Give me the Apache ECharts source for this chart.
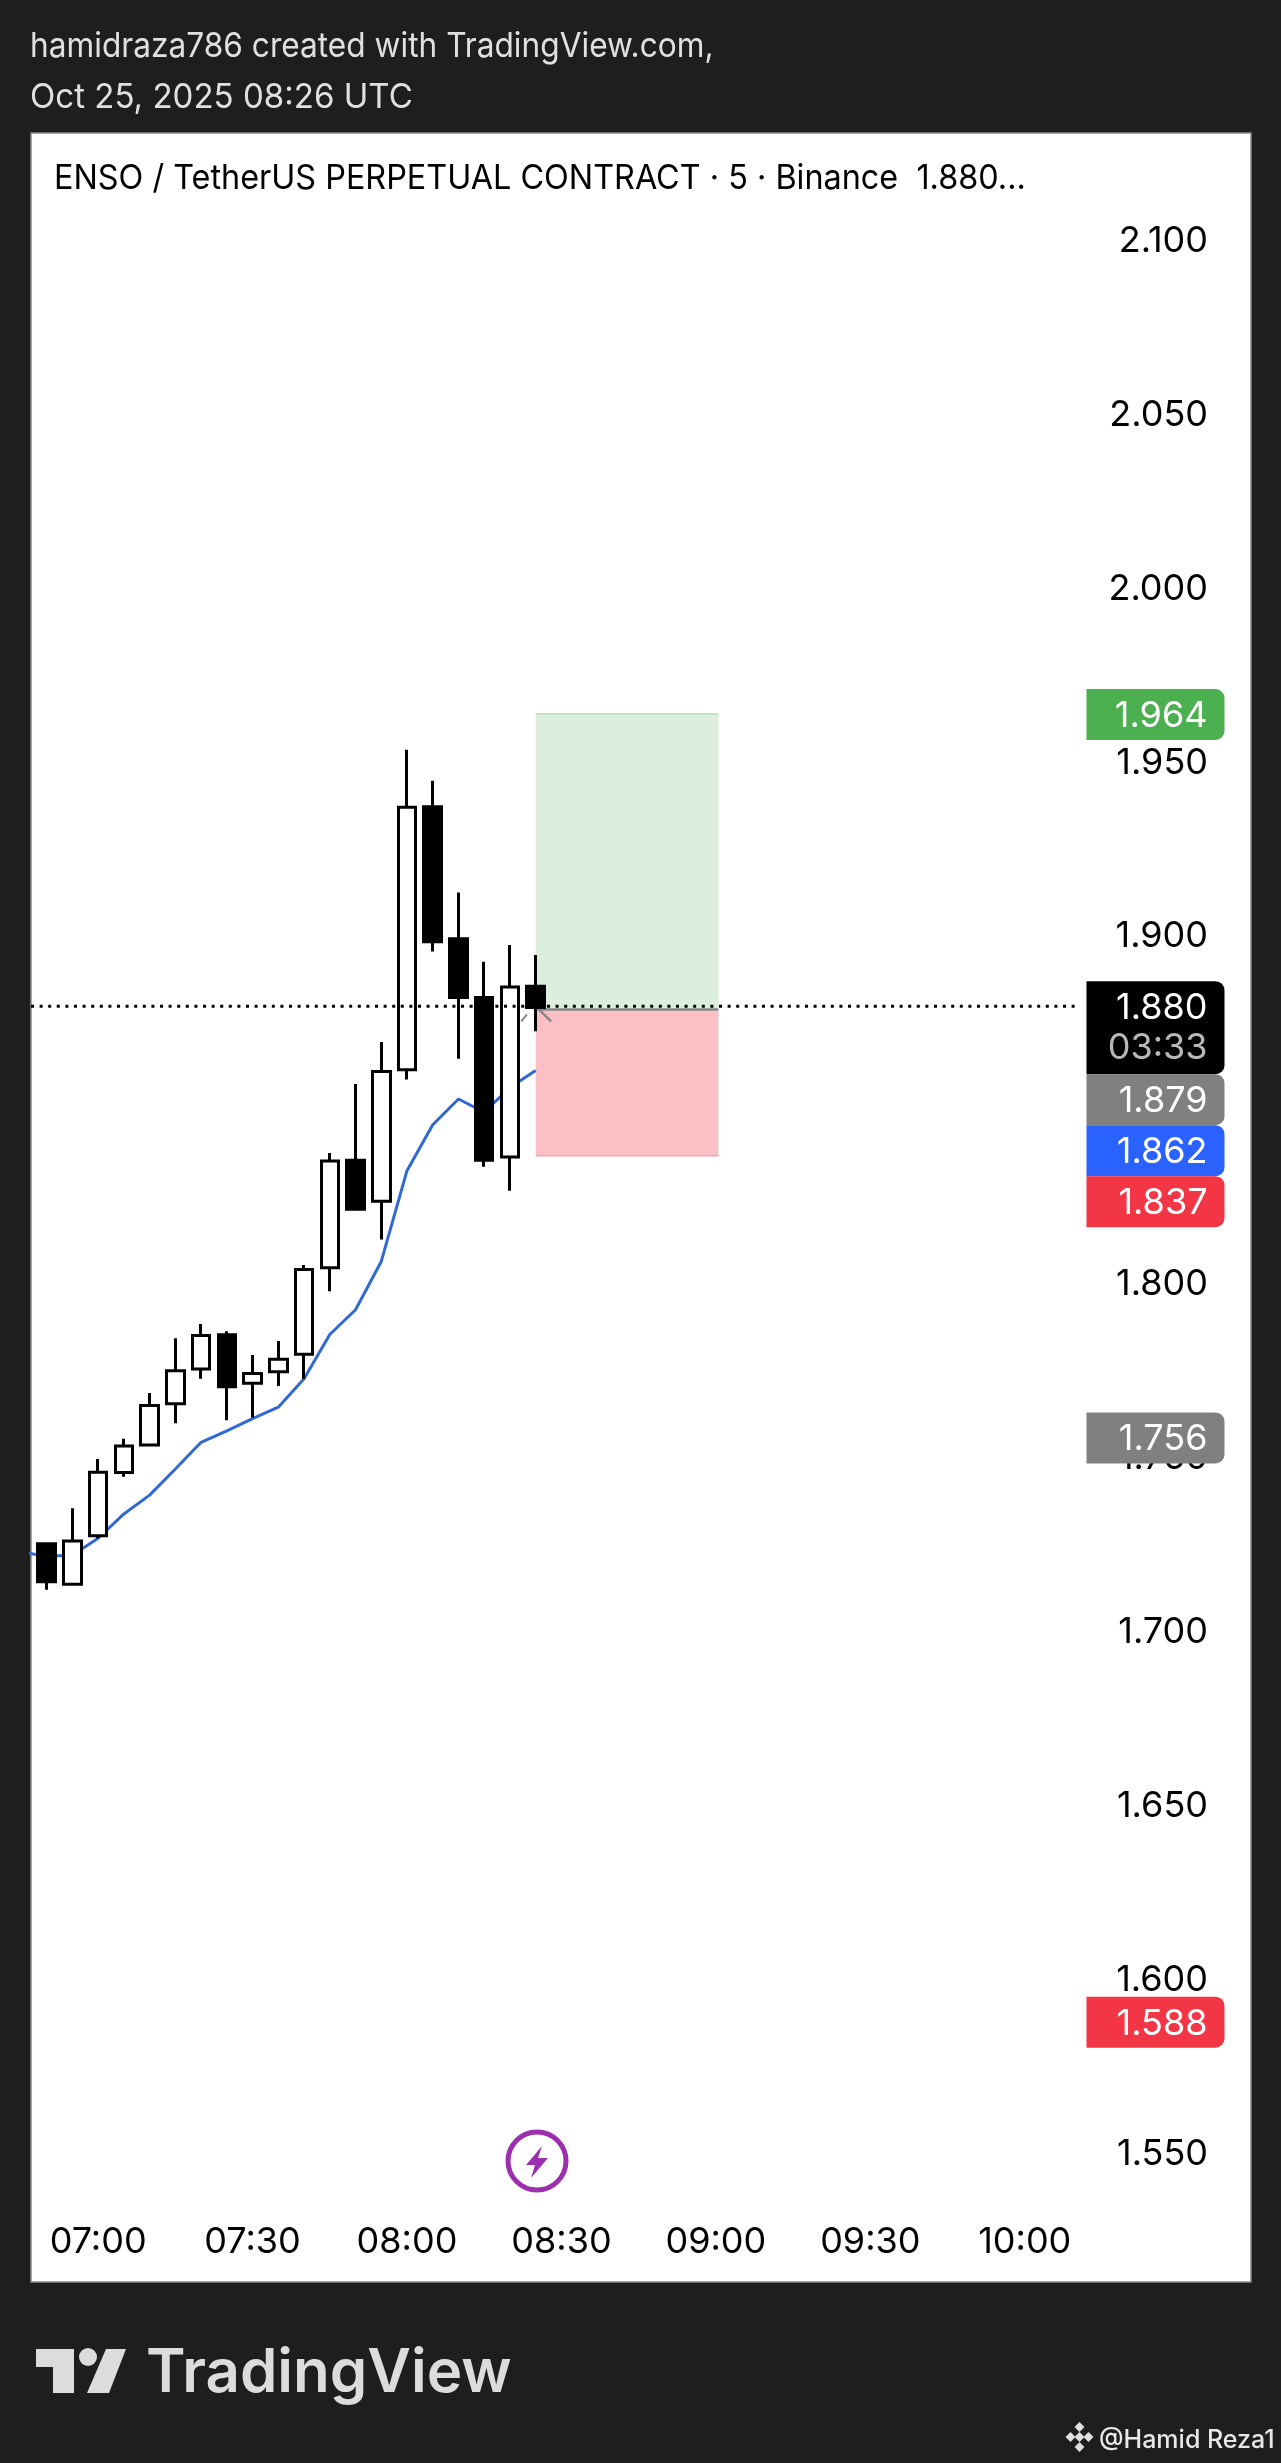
<!DOCTYPE html>
<html><head><meta charset="utf-8">
<style>html,body{margin:0;padding:0;background:#1e1e1e}#c{width:1281px;height:2463px}</style>
<script src="https://cdn.jsdelivr.net/npm/echarts@6/dist/echarts.min.js"></script>
</head><body><div id="c"></div>
<script>
const FONT = 'Inter';
const times = ['06:50','06:55','07:00','07:05','07:10','07:15','07:20','07:25','07:30','07:35','07:40','07:45','07:50','07:55','08:00','08:05','08:10','08:15','08:20','08:25'];
const opens  = [1.7254,1.7138,1.7277,1.7459,1.7538,1.7657,1.7757,1.7855,1.7716,1.7749,1.7799,1.8048,1.8357,1.8239,1.8617,1.9373,1.8994,1.8825,1.8366,1.8857];
const closes = [1.7145,1.7262,1.7460,1.7535,1.7652,1.7752,1.7853,1.7706,1.7744,1.7785,1.8043,1.8355,1.8216,1.8612,1.9372,1.8985,1.8825,1.8357,1.8855,1.8796];
const lows   = [1.7122,1.7138,1.7270,1.7447,1.7538,1.7601,1.7729,1.7609,1.7617,1.7708,1.7728,1.7980,1.8216,1.8129,1.8589,1.8957,1.8649,1.8338,1.8269,1.8728];
const highs  = [1.7254,1.7356,1.7498,1.7556,1.7688,1.7845,1.7886,1.7865,1.7797,1.7837,1.8056,1.8378,1.8576,1.8697,1.9537,1.9448,1.9127,1.8928,1.8976,1.8947];
const emaTimes  = ['06:45'].concat(times);
const emaValues = [1.7231,1.7218,1.7221,1.7270,1.7340,1.7394,1.7469,1.7546,1.7579,1.7614,1.7647,1.7729,1.7856,1.7927,1.8066,1.8327,1.8459,1.8533,1.8495,1.8566,1.8615];
const priceTicks = [1.55,1.6,1.65,1.7,1.75,1.8,1.85,1.9,1.95,2.0,2.05,2.1];
const timeTicks = ['07:00','07:30','08:00','08:30','09:00','09:30','10:00'];
const lastPrice = 1.880;
const countdown = '03:33';
const positionTool = {start:505, end:540.5, target:1.964, entry:1.879, stop:1.837};
const tagPrices = [1.964,1.880,1.879,1.862,1.837,1.756,1.588];
const tagColors = ['#4caf50','#000000','#808080','#2962ff','#f23645','#808080','#f23645'];
const titleText = 'ENSO / TetherUS PERPETUAL CONTRACT · 5 · Binance  1.880...';
const headerLines = ['hamidraza786 created with TradingView.com,','Oct 25, 2025 08:26 UTC'];

const toMin = s => { const [h,m] = s.split(':').map(Number); return h*60+m; };
const fmtMin = v => { const h=Math.floor(v/60), m=Math.round(v-h*60); return String(h).padStart(2,'0')+':'+String(m).padStart(2,'0'); };
const GRID = {left:31, top:133, width:1220, height:2149};
const X_MIN = 406.96, X_MAX = 643.95, Y_MIN = 1.51316, Y_MAX = 2.13105;

const candleData = times.map((t,i)=>[toMin(t),opens[i],closes[i],lows[i],highs[i]]);
const emaData = emaTimes.map((t,i)=>[toMin(t),emaValues[i]]);

function lineShape(api,a,b,style){
  const p=api.coord(a),q=api.coord(b);
  return {type:'line',shape:{x1:p[0],y1:p[1],x2:q[0],y2:q[1]},style:style};
}
function renderPosition(params,api){
  const s=positionTool.start, e=positionTool.end;
  const a=api.coord([s,positionTool.target]), b=api.coord([e,positionTool.entry]), c=api.coord([e,positionTool.stop]);
  return {type:'group',children:[
    {type:'rect',shape:{x:a[0],y:a[1],width:b[0]-a[0],height:b[1]-a[1]},style:{fill:'#dbefdc'}},
    {type:'rect',shape:{x:a[0],y:b[1],width:b[0]-a[0],height:c[1]-b[1]},style:{fill:'#fcbfc5'}},
    lineShape(api,[s,positionTool.target],[e,positionTool.target],{stroke:'#c3e2c5',lineWidth:2}),
    lineShape(api,[s,positionTool.stop],[e,positionTool.stop],{stroke:'#f5a3ab',lineWidth:1.5}),
    lineShape(api,[s,positionTool.entry],[e,positionTool.entry],{stroke:'#888888',lineWidth:2.5}),
    lineShape(api,[505.7,1.8789],[508.0,1.8756],{stroke:'#888888',lineWidth:2.5}),
    lineShape(api,[502.2,1.8756],[503.3,1.8776],{stroke:'#888888',lineWidth:2})
  ]};
}
// Price tags on the scale: each sits on its own price, pushed down when it would overlap the previous one.
const ROW=51, TALL=93, HALF=25;
let tagBottom=-Infinity;
function renderTag(params,api){
  const i=params.dataIndex;
  if(i===0) tagBottom=-Infinity;
  const price=api.value(0);
  const y0=api.coord([X_MIN,price])[1];
  const top=Math.max(y0-HALF,tagBottom);
  const isLast=price===lastPrice;
  const h=isLast?TALL:ROW;
  tagBottom=top+h;
  const right=params.coordSys.x+params.coordSys.width-26.5, left=right-138;
  const textStyle=(txt,y,fill)=>({type:'text',style:{text:txt,x:right-17,y:y,align:'right',verticalAlign:'middle',font:'36px '+FONT,fill:fill}});
  const kids=[{type:'rect',shape:{x:left,y:top,width:138,height:h,r:[0,9,9,0]},style:{fill:tagColors[i]}},
    textStyle(price.toFixed(3),top+27,'#ffffff')];
  if(isLast) kids.push(textStyle(countdown,top+67,'#b8b8b8'));
  return {type:'group',children:kids};
}
const LOGO='#dcdcdc';
const graphic=[
  {type:'text',x:30,y:30,scaleX:0.931,z:20,style:{text:headerLines[0],font:'34px '+FONT,fill:'#e0e0e0',verticalAlign:'top'}},
  {type:'text',x:30,y:81,scaleX:0.972,z:20,style:{text:headerLines[1],font:'34px '+FONT,fill:'#e0e0e0',verticalAlign:'top'}},
  {type:'text',x:54,y:162,scaleX:0.952,z:20,style:{text:titleText,font:'34px '+FONT,fill:'#000000',verticalAlign:'top'}},
  {type:'circle',z:20,shape:{cx:537,cy:2161,r:29},style:{fill:'#ffffff',stroke:'#9c2fae',lineWidth:5}},
  {type:'polygon',z:20,shape:{points:[[542,2146],[526,2165],[535,2165],[531,2178],[548,2158],[538,2158]]},style:{fill:'#9c2fae'}},
  {type:'polygon',z:20,shape:{points:[[36,2349],[74,2349],[74,2393],[53,2393],[53,2367],[36,2367]]},style:{fill:LOGO}},
  {type:'circle',z:20,shape:{cx:88,cy:2357,r:9},style:{fill:LOGO}},
  {type:'polygon',z:20,shape:{points:[[106,2349],[126,2349],[109,2393],[87,2393]]},style:{fill:LOGO}},
  {type:'text',x:146,y:2344,z:20,style:{text:'TradingView',font:'600 60px '+FONT,fill:LOGO,verticalAlign:'top'}},
  {type:'text',x:1099,y:2428,z:20,style:{text:'@Hamid Reza1',font:'500 25px '+FONT,fill:'#e8e8e8',verticalAlign:'top'}}
];
[[1079.5,2427],[1070.5,2437],[1088.5,2437],[1079.5,2447],[1079.5,2437]].forEach(c=>graphic.push(
  {type:'rect',z:20,x:c[0],y:c[1],rotation:Math.PI/4,shape:{x:-3.5,y:-3.5,width:7,height:7},style:{fill:'#e0e0e0'}}));

const chart=echarts.init(document.getElementById('c'),null,{renderer:'canvas'});
chart.setOption({
  animation:false,
  backgroundColor:'#1e1e1e',
  graphic:graphic,
  grid:Object.assign({show:true,backgroundColor:'#ffffff',borderColor:'#8a8a8a',borderWidth:1.5},GRID),
  xAxis:{type:'value',min:X_MIN,max:X_MAX,splitLine:{show:false},axisLine:{show:false},axisTick:{show:false},
    axisLabel:{customValues:timeTicks.map(toMin),formatter:fmtMin,inside:true,margin:22,color:'#000',fontFamily:FONT,fontSize:36,verticalAlign:'bottom',lineHeight:36}},
  yAxis:{type:'value',position:'right',min:Y_MIN,max:Y_MAX,scale:true,splitLine:{show:false},axisLine:{show:false},axisTick:{show:false},
    axisLabel:{customValues:priceTicks,formatter:v=>v.toFixed(3),inside:true,margin:43,padding:[6,0,0,0],color:'#000',fontFamily:FONT,fontSize:36}},
  series:[
    {type:'custom',name:'position',z:1,clip:false,renderItem:renderPosition,data:[[positionTool.start,positionTool.entry]],encode:{x:0,y:1},silent:true},
    {type:'line',name:'EMA',z:2,data:emaData,showSymbol:false,lineStyle:{color:'#3169d4',width:3},silent:true},
    {type:'candlestick',name:'ENSOUSDT.P',z:3,data:candleData,encode:{x:0,y:[1,2,3,4]},barWidth:18,clip:false,
      itemStyle:{color:'#ffffff',color0:'#000000',borderColor:'#000000',borderColor0:'#000000',borderWidth:3}},
    {type:'line',name:'last',z:4,data:[[X_MIN,lastPrice],[610,lastPrice]],showSymbol:false,lineStyle:{color:'#000',width:3,type:[3,5.6]},silent:true},
    {type:'custom',name:'tags',z:5,clip:false,renderItem:renderTag,data:tagPrices.map(p=>[p]),encode:{y:0},silent:true}
  ]
});
</script></body></html>
